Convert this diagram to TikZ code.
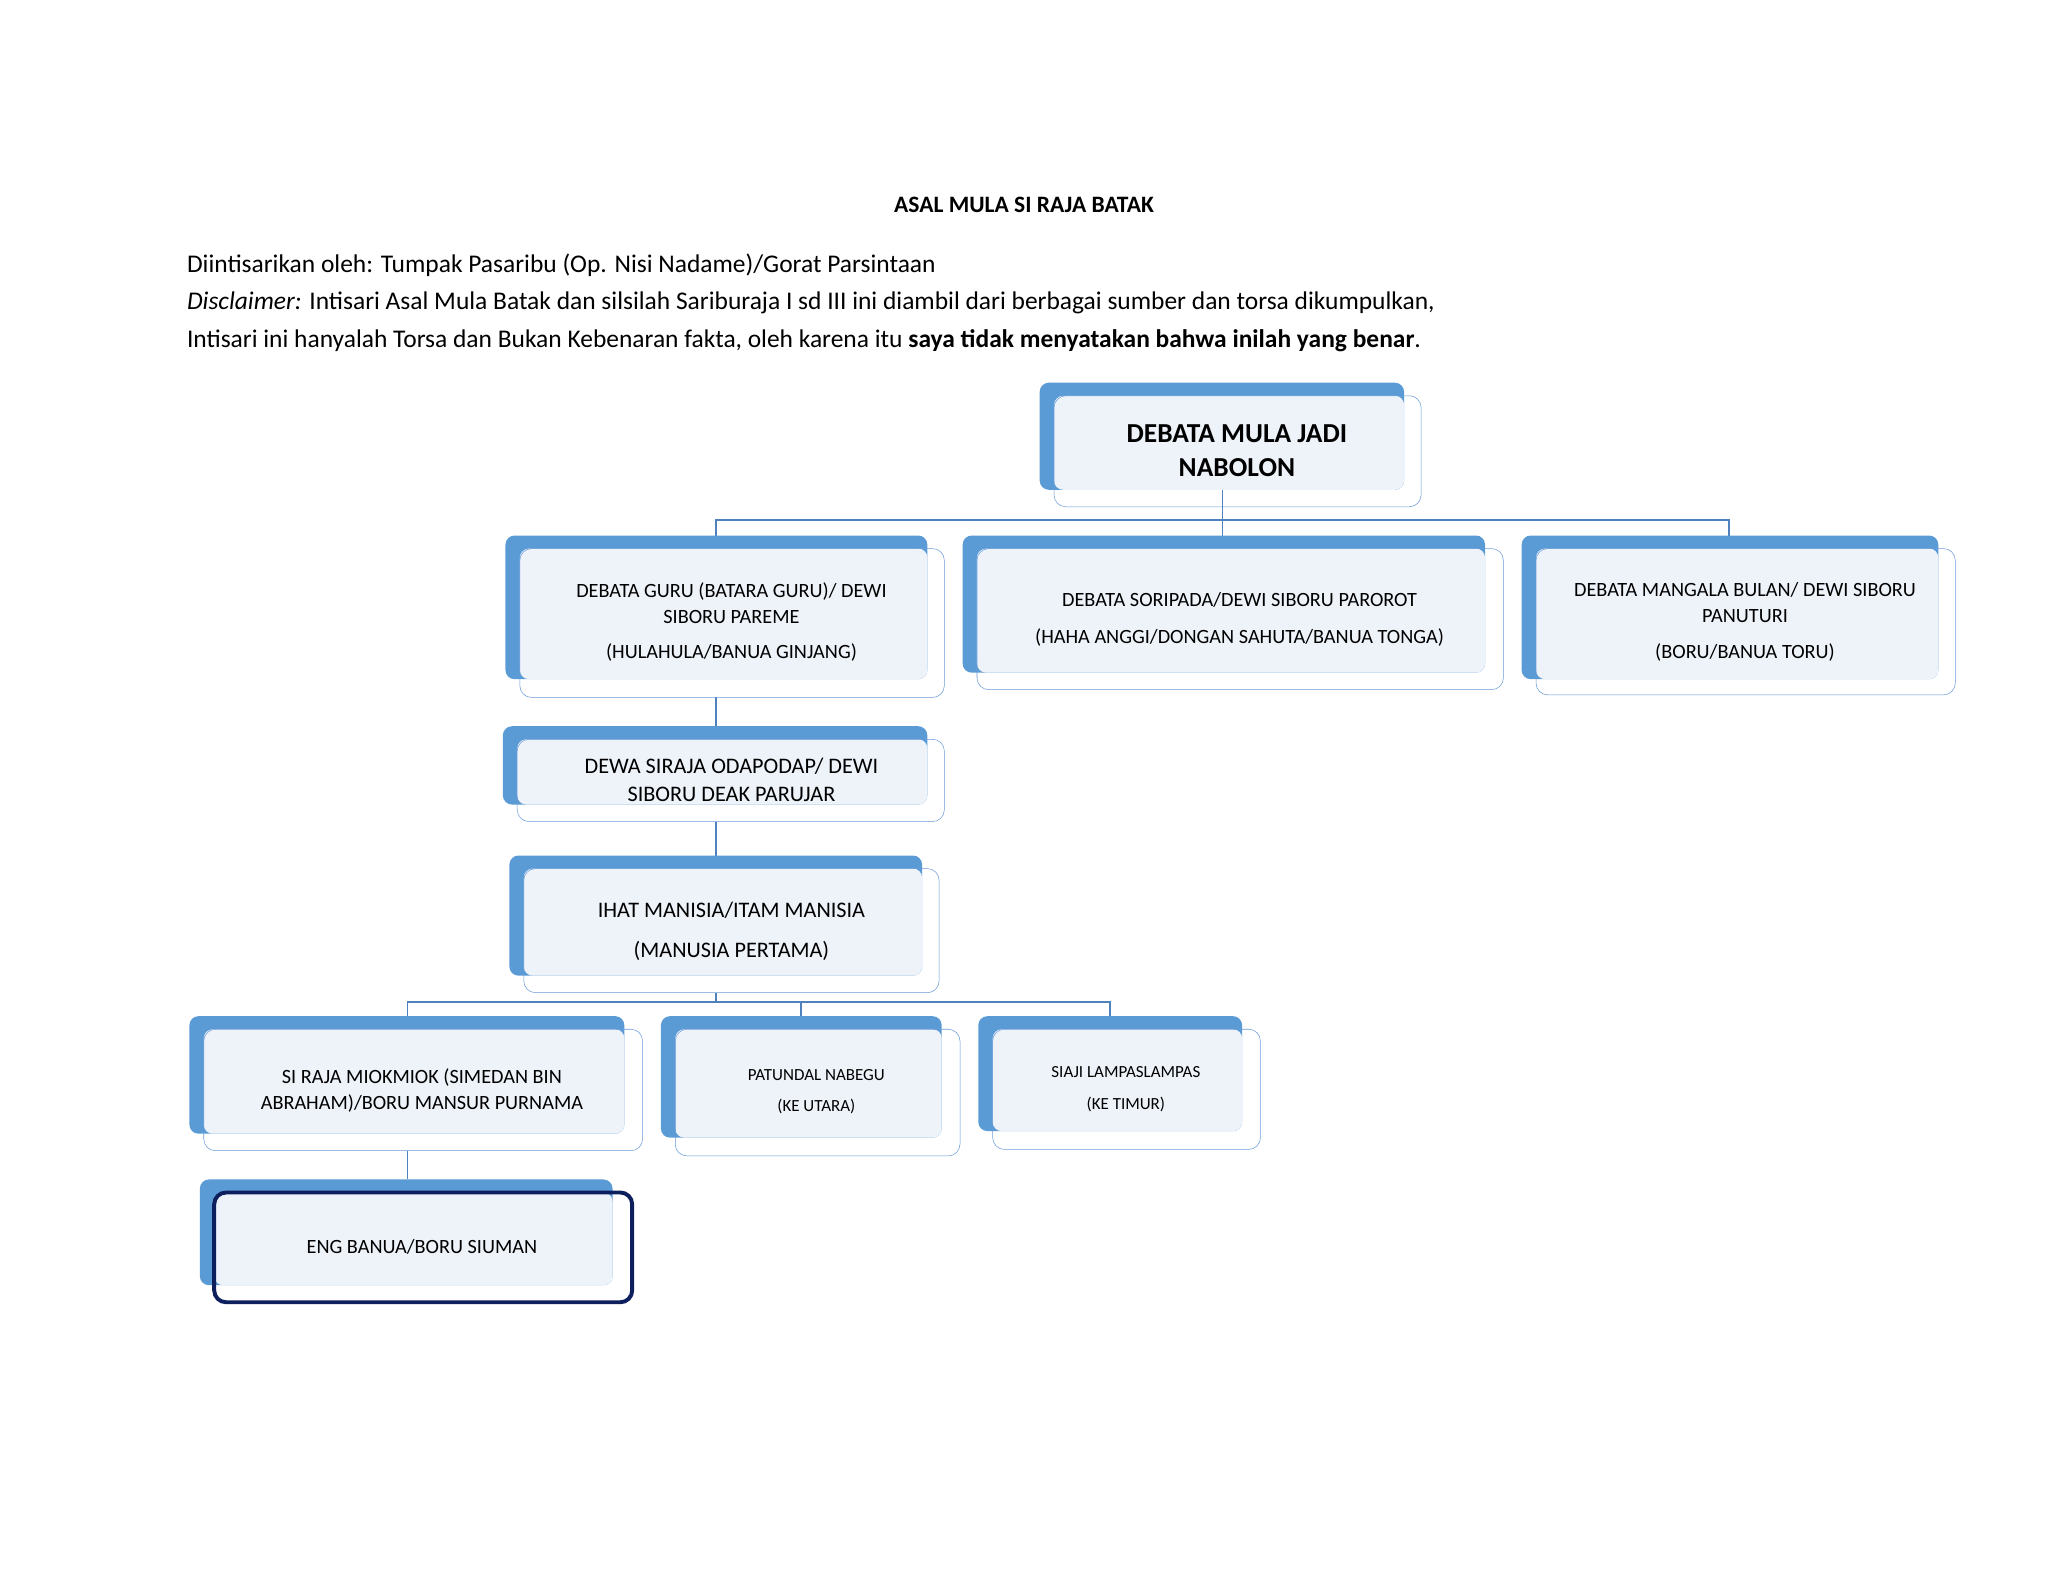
\documentclass[tikz,border=0pt]{standalone}
\usepackage{fontspec}
\setmainfont{Carlito}
\usetikzlibrary{fit}
\definecolor{backblue}{HTML}{5B9BD5}
\definecolor{fillblue}{HTML}{EEF3FA}
\definecolor{edgeblue}{HTML}{6A9BD8}
\definecolor{linkblue}{HTML}{4F81BD}
\definecolor{navy}{HTML}{0D1F5C}
\newcommand\mybox[8][edgeblue]{%
  \fill[backblue,rounded corners=7pt] (#3,#4) rectangle (#5,#6);
  \fill[fillblue,rounded corners=7pt] (#3+11,#4+10) rectangle (#5,#6);
  \node[inner sep=0pt,fit={(#3,#4)(#5,#6)}] (#2) {};
  \draw[#1,rounded corners=9pt] (#3+11,#4+10) rectangle (#7,#8);
}
\tikzset{lbl/.style={align=center,font=\fontsize{15.5}{20}\selectfont,inner sep=0pt},
  link/.style={linkblue,line width=1.3pt}}
\begin{document}
\begin{tikzpicture}[x=1pt,y=-1pt]
\useasboundingbox[fill=white] (0,0) rectangle (1568,1211);
\node[font=\fontsize{18}{22}\selectfont\bfseries] (title) at (784,157) {ASAL MULA SI RAJA BATAK};
\node[anchor=west,inner sep=0pt,font=\fontsize{19.5}{24}\selectfont] (l1) at (143,203) {Diintisarikan oleh: Tumpak Pasaribu (Op. Nisi Nadame)/Gorat Parsintaan};
\node[anchor=west,inner sep=0pt,font=\fontsize{19.5}{24}\selectfont] (l2) at (143,232) {\textit{Disclaimer:} Intisari Asal Mula Batak dan silsilah Sariburaja I sd III ini diambil dari berbagai sumber dan torsa dikumpulkan,};
\node[anchor=west,inner sep=0pt,font=\fontsize{19.5}{24}\selectfont] (l3) at (143,261) {Intisari ini hanyalah Torsa dan Bukan Kebenaran fakta, oleh karena itu \textbf{saya tidak menyatakan bahwa inilah yang benar}.};

% connectors
\coordinate (j1) at (936,398);
\draw[link] (936,375) -- (j1);
\draw[link] (548,410) -- (548,398) -- (1324,398) -- (1324,410);
\draw[link] (936,398) -- (936,410);
\draw[link] (548,534) -- (548,556);
\draw[link] (548,629) -- (548,655);
\draw[link] (548,760) -- (548,767);
\draw[link] (312,778) -- (312,767) -- (850,767) -- (850,778);
\draw[link] (613,767) -- (613,778);
\draw[link] (312,881) -- (312,903);

\mybox{top}{796}{293}{1075}{375}{1088}{388}
\node[lbl,font=\fontsize{21}{26}\selectfont\bfseries] (ttop) at (947,345) {DEBATA MULA JADI\\NABOLON};
\mybox{guru}{387}{410}{710}{520}{723}{534}
\node[lbl] (tguru) at (560,476) {DEBATA GURU (BATARA GURU)/ DEWI\\SIBORU PAREME\\[7pt](HULAHULA/BANUA GINJANG)};
\mybox{sori}{737}{410}{1137}{515}{1151}{528}
\node[lbl,font=\fontsize{15.5}{28}\selectfont] (tsori) at (949,474) {DEBATA SORIPADA/DEWI SIBORU PAROROT\\(HAHA ANGGI/DONGAN SAHUTA/BANUA TONGA)};
\mybox{mang}{1165}{410}{1484}{520}{1497}{532}
\node[lbl] (tmang) at (1336,476) {DEBATA MANGALA BULAN/ DEWI SIBORU\\PANUTURI\\[7pt](BORU/BANUA TORU)};
\mybox{dewa}{385}{556}{710}{616}{723}{629}
\node[lbl,font=\fontsize{17}{22}\selectfont] (tdewa) at (560,597) {DEWA SIRAJA ODAPODAP/ DEWI\\SIBORU DEAK PARUJAR};
\mybox{ihat}{390}{655}{706}{747}{719}{760}
\node[lbl,font=\fontsize{17}{30}\selectfont] (tihat) at (560,713) {IHAT MANISIA/ITAM MANISIA\\(MANUSIA PERTAMA)};
\mybox{siraja}{145}{778}{478}{868}{492}{881}
\node[lbl] (tsiraja) at (323,835) {SI RAJA MIOKMIOK (SIMEDAN BIN\\ABRAHAM)/BORU MANSUR PURNAMA};
\mybox{pat}{506}{778}{721}{871}{735}{885}
\node[lbl,font=\fontsize{13}{24}\selectfont] (tpat) at (625,836) {PATUNDAL NABEGU\\(KE UTARA)};
\mybox{siaji}{749}{778}{951}{866}{965}{880}
\node[lbl,font=\fontsize{13}{24}\selectfont] (tsiaji) at (862,834) {SIAJI LAMPASLAMPAS\\(KE TIMUR)};
\mybox[navy,line width=3pt]{eng}{153}{903}{469}{984}{484}{997}
\node[lbl] (teng) at (323,955) {ENG BANUA/BORU SIUMAN};
\end{tikzpicture}
\end{document}
